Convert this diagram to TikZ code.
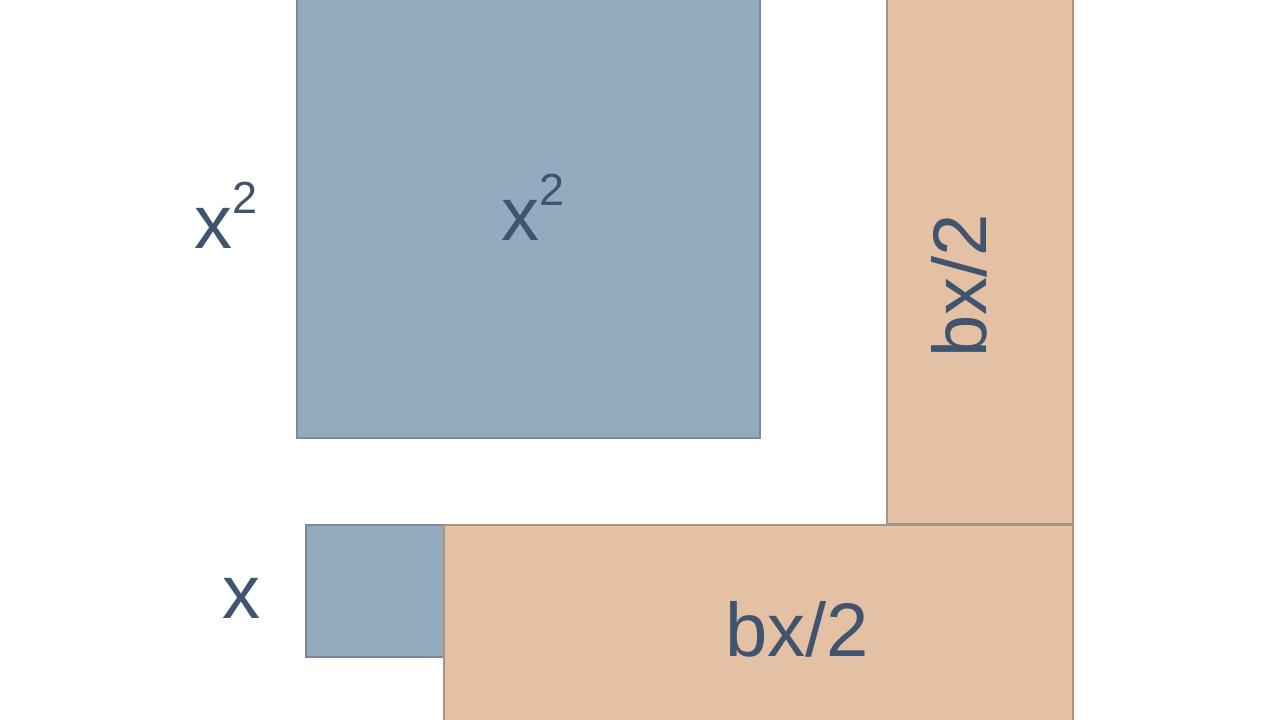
\documentclass[tikz,border=0pt]{standalone}
\usepackage{fontspec}
\setmainfont{Liberation Sans}
\definecolor{bluefill}{HTML}{94AABF}
\definecolor{blueline}{HTML}{7A8A9C}
\definecolor{orfill}{HTML}{E4C1A4}
\definecolor{orline}{HTML}{A89580}
\definecolor{txt}{HTML}{41546D}
\tikzset{
  bluebox/.style={fill=bluefill, draw=blueline, line width=1.2pt},
  orbox/.style={fill=orfill, draw=orline, line width=1.2pt},
  lbl/.style={text=txt, font=\fontsize{76}{92}\selectfont, inner sep=0pt, anchor=base}
}
\newcommand{\sqsup}{\raisebox{0.46em}{\fontsize{45}{45}\selectfont 2}}
\begin{document}
\begin{tikzpicture}[x=1pt,y=-1pt]
\useasboundingbox (0,0) rectangle (1280,720);
\clip (0,0) rectangle (1280,720);
\fill[white] (0,0) rectangle (1280,720);
% big blue square
\draw[bluebox] (297,-5) rectangle (760,438);
% vertical orange
\draw[orbox] (887,-5) rectangle (1073,524);
% small blue square
\draw[bluebox] (306,525) rectangle (444,657);
% horizontal orange
\draw[orbox] (444,525) rectangle (1073,730);
% labels
\node[lbl] (lx2) at (226,248) {x\sqsup};
\node[lbl] (ix2) at (533,240) {x\sqsup};
\node[lbl] (lx) at (241,618) {x};
\node[lbl] (hb) at (797,656) {bx/2};
\node[lbl, rotate=90] (vb) at (986,286) {bx/2};
\end{tikzpicture}
\end{document}
